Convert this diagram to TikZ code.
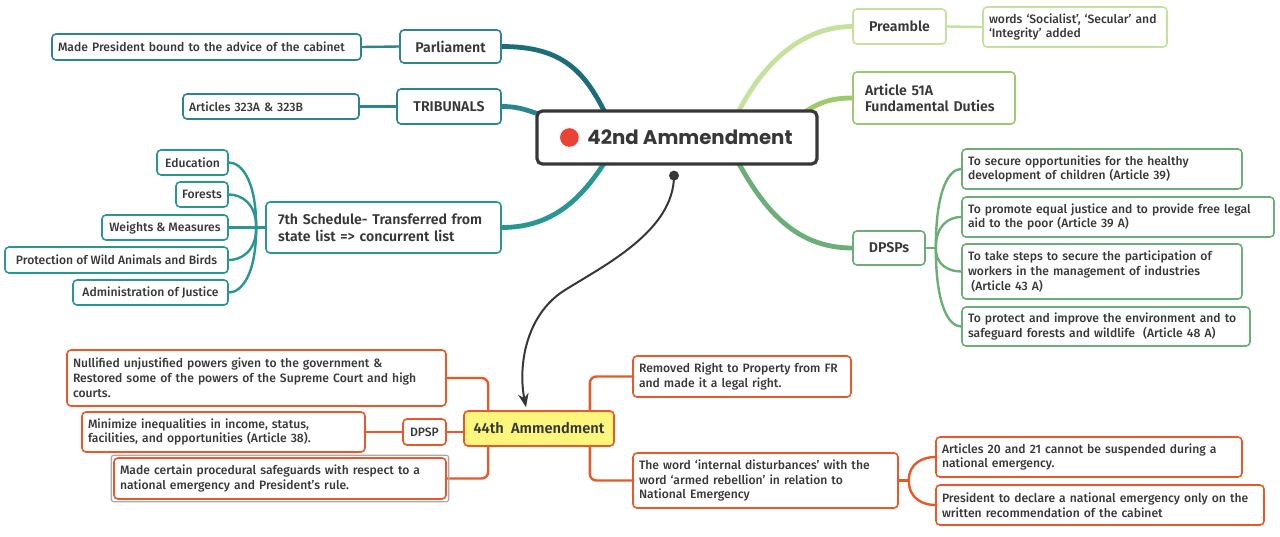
\documentclass[tikz,border=0pt]{standalone}
\usepackage{fontspec}
\setmainfont{Fira Sans}[UprightFont={* Medium}, BoldFont={* SemiBold}]
\newfontfamily\titlefont{Poppins}
\usetikzlibrary{positioning,arrows.meta,fit,backgrounds,calc}
\definecolor{mmtext}{RGB}{55,55,55}
\definecolor{mmteal}{RGB}{28,108,122}
\definecolor{mmtealb}{RGB}{42,133,142}
\definecolor{mmtealc}{RGB}{40,150,145}
\definecolor{mmgreena}{RGB}{196,226,158}
\definecolor{mmgreenb}{RGB}{160,200,108}
\definecolor{mmgreenc}{RGB}{108,174,120}
\definecolor{mmorange}{RGB}{232,88,40}
\definecolor{mmyellow}{RGB}{253,246,125}
\definecolor{mmred}{RGB}{234,67,53}
\definecolor{mmgray}{RGB}{170,170,170}
\tikzset{
  mm/.style={font=\fontsize{9.1}{11.1}\selectfont, text=mmtext},
  mmbox/.style={
    mm, draw=#1, fill=white, line width=1.2pt, rounded corners=3pt,
    inner xsep=4.5pt, inner ysep=2pt
  },
  mmhead/.style={mmbox=#1, font=\fontsize{10.6}{12.4}\selectfont\bfseries, align=center},
  mmleaf/.style={mmbox=#1, align=left},
  mmmain/.style={
    mm, draw=mmtext, fill=white, line width=2.4pt, rounded corners=4pt,
    font=\titlefont\bfseries\fontsize{14.8}{17}\selectfont
  },
  mmbranch/.style={draw=#1, line width=3.6pt, line cap=round},
  mmtwig/.style={draw=#1, line width=1.8pt},
  mmlink/.style={-{Stealth[length=3.6mm,width=2.8mm]}, line width=1.5pt, draw=mmtext},
}
\begin{document}
\begin{tikzpicture}[mm, x=0.75pt, y=-0.75pt]
  \useasboundingbox (0,0) rectangle (1280,536);

  % centre
  \node[mmmain, minimum width=210pt, minimum height=39.75pt] (c42) at (677,137.5)
    {\hspace*{19.5pt}42nd Ammendment};
  \node[circle, fill=mmred, inner sep=0pt, minimum size=14pt] (dot) at ($(c42.west)+(34,0)$) {};

  % teal side
  \node[mmhead=mmtealb, minimum width=75.75pt, minimum height=24.75pt] (parl) at (450.5,46.5) {Parliament};
  \node[mmleaf=mmtealb, text width=222.75pt, minimum height=19.5pt] (parlleaf) at (206.5,47)
    {Made President bound to the advice of the cabinet};
  \node[mmhead=mmtealb, minimum width=78pt, minimum height=26.25pt] (trib) at (449,106.5) {TRIBUNALS};
  \node[mmleaf=mmtealb, text width=123pt, minimum height=18.75pt] (tribleaf) at (271,106.5)
    {Articles 323A \& 323B};
  \node[mmhead=mmtealc, align=left, inner xsep=9pt, text width=158.25pt, minimum height=38.25pt]
    (sched) at (383.5,227.5) {7th Schedule- Transferred from\\state list => concurrent list};
  \node[mmleaf=mmtealc, minimum width=53.25pt, minimum height=18.75pt] (edu) at (192.5,162.5) {Education};
  \node[mmleaf=mmtealc, minimum width=39pt, minimum height=18.75pt] (forest) at (202,194.5) {Forests};
  \node[mmleaf=mmtealc, minimum width=94.5pt, minimum height=18.75pt] (weights) at (165,227.5) {Weights \& Measures};
  \node[mmleaf=mmtealc, minimum width=167.25pt, minimum height=19.5pt] (wild) at (116.5,260)
    {Protection of Wild Animals and Birds};
  \node[mmleaf=mmtealc, minimum width=116.25pt, minimum height=18.75pt] (justice) at (150.5,292.5)
    {Administration of Justice};

  % green side
  \node[mmhead=mmgreena, minimum width=69.75pt, minimum height=26.25pt] (pre) at (899.5,26.5) {Preamble};
  \node[mmleaf=mmgreena, text width=129pt, minimum height=30pt] (preleaf) at (1075,27)
    {words ‘Socialist’, ‘Secular’ and\\‘Integrity’ added};
  \node[mmhead=mmgreenb, align=left, inner xsep=9pt, text width=103.5pt, minimum height=39pt]
    (art) at (934,98) {Article 51A\\Fundamental Duties};
  \node[mmhead=mmgreenc, minimum width=54pt, minimum height=25.5pt] (dpsps) at (889,248) {DPSPs};
  \node[mmleaf=mmgreenc, text width=201pt, minimum height=30pt] (d1) at (1102,169)
    {To secure opportunities for the healthy\\development of children (Article 39)};
  \node[mmleaf=mmgreenc, text width=225pt, minimum height=30pt] (d2) at (1118,217)
    {To promote equal justice and to provide free legal\\aid to the poor (Article 39 A)};
  \node[mmleaf=mmgreenc, text width=201pt, minimum height=41.25pt] (d3) at (1102,271.5)
    {To take steps to secure the participation of\\workers in the management of industries\\\hspace*{2.5pt}(Article 43 A)};
  \node[mmleaf=mmgreenc, text width=207pt, minimum height=29.25pt] (d4) at (1106,326.5)
    {To protect and improve the environment and to\\safeguard forests and wildlife\ \ (Article 48 A)};

  % 44th amendment
  \node[mmhead=mmorange, fill=mmyellow, minimum width=112.5pt, minimum height=26.25pt,
    font=\fontsize{11}{13}\selectfont\bfseries] (a44) at (539,428.5) {44th\ \ Ammendment};
  \node[mmleaf=mmorange, text width=275.25pt, minimum height=42pt] (null) at (256.5,378)
    {Nullified unjustified powers given to the government \&\\Restored some of the powers of the Supreme Court and high\\courts.};
  \node[mmleaf=mmorange, minimum width=32.25pt, minimum height=19.5pt] (dpspL) at (424.5,432) {DPSP};
  \node[mmleaf=mmorange, text width=203.25pt, minimum height=30pt] (mini) at (223.5,432)
    {Minimize inequalities in income, status,\\facilities, and opportunities (Article 38).};
  \node[mmleaf=mmorange, text width=240pt, minimum height=30.75pt] (made) at (280,478.5)
    {Made certain procedural safeguards with respect to a\\national emergency and President’s rule.};
  \node[draw=mmgray, line width=0.9pt, rounded corners=2pt, inner sep=1.5pt, fit=(made)] (madesel) {};
  \node[mmleaf=mmorange, text width=154.5pt, minimum height=30.75pt] (removed) at (742,376.5)
    {Removed Right to Property from FR\\and made it a legal right.};
  \node[mmleaf=mmorange, text width=189.75pt, minimum height=41.25pt] (word) at (765.5,480.5)
    {The word ‘internal disturbances’ with the\\word ‘armed rebellion’ in relation to\\National Emergency};
  \node[mmleaf=mmorange, text width=220.5pt, minimum height=30pt] (art2021) at (1089,457)
    {Articles 20 and 21 cannot be suspended during a\\national emergency.};
  \node[mmleaf=mmorange, text width=237pt, minimum height=30pt] (pres) at (1100,505)
    {President to declare a national emergency only on the\\written recommendation of the cabinet};

  \begin{scope}[on background layer]
    % main branches
    \draw[mmbranch=mmteal] (parl.east) .. controls +(60,0) and +(-22,-45) .. ($(c42.north west)+(71,6)$);
    \draw[mmbranch=mmtealb] (trib.east) .. controls +(20,0) and +(-15,-4) .. ($(c42.north west)+(8,6)$);
    \draw[mmbranch=mmtealc] (sched.east) .. controls +(50,0) and +(-25,40) .. ($(c42.south west)+(71,-6)$);
    \draw[mmbranch=mmgreena] (pre.west) .. controls +(-55,0) and +(22,-45) .. ($(c42.north east)+(-82,6)$);
    \draw[mmbranch=mmgreenb] (art.west) .. controls +(-30,0) and +(15,-8) .. ($(c42.north east)+(-20,6)$);
    \draw[mmbranch=mmgreenc] (dpsps.west) .. controls +(-60,0) and +(25,45) .. ($(c42.south east)+(-82,-6)$);

    % twigs
    \draw[mmtwig=mmtealb] (parlleaf.east) -- (parl.west);
    \draw[mmtwig=mmtealb] (tribleaf.east) -- (trib.west);
    \coordinate (sj) at ($(sched.west)+(-9,0)$);
    \draw[mmtwig=mmtealc] (sched.west) -- (sj) -- (weights.east);
    \foreach \n in {edu,forest,wild,justice}
      \draw[mmtwig=mmtealc] (sj) .. controls ($(sj)!0.75!(sj |- \n.east)$) and ($(\n.east)+(12,0)$) .. (\n.east);
    \draw[mmtwig=mmgreena] (pre.east) -- (preleaf.west);
    \coordinate (dj) at ($(dpsps.east)+(10,0)$);
    \draw[mmtwig=mmgreenc] (dpsps.east) -- (dj);
    \foreach \n in {d1,d2,d3,d4}
      \draw[mmtwig=mmgreenc] (dj) .. controls ($(dj)!0.75!(dj |- \n.west)$) and ($(\n.west)+(-12,0)$) .. (\n.west);

    \coordinate (lj) at ($(a44.west)+(25,0)$);
    \draw[mmtwig=mmorange, rounded corners=5pt] (null.east) -| (lj) |- (made.east);
    \draw[mmtwig=mmorange] (a44.west |- dpspL.east) -- (dpspL.east);
    \draw[mmtwig=mmorange] (dpspL.west) -- (mini.east);
    \coordinate (rj) at ($(a44.east)+(-25,0)$);
    \draw[mmtwig=mmorange, rounded corners=5pt] (removed.west) -| (rj) |- (word.west);
    \coordinate (wj) at ($(word.east)+(10,0)$);
    \draw[mmtwig=mmorange] (word.east) -- (wj);
    \foreach \n in {art2021,pres}
      \draw[mmtwig=mmorange] (wj) .. controls ($(wj)!0.75!(wj |- \n.west)$) and ($(\n.west)+(-12,0)$) .. (\n.west);
  \end{scope}

  % link 42nd -> 44th
  \node[circle, fill=mmtext, inner sep=0pt, minimum size=7.5pt] (adot) at ($(c42.south)+(-3,10)$) {};
  \coordinate (am) at (565,290);
  \draw[mmlink] (adot.center) .. controls +(0,55) and +(40,-25) .. (am)
    .. controls +(-40,25) and +(-8,-40) .. ($(a44.north)+(-13,-3)$);
\end{tikzpicture}
\end{document}
